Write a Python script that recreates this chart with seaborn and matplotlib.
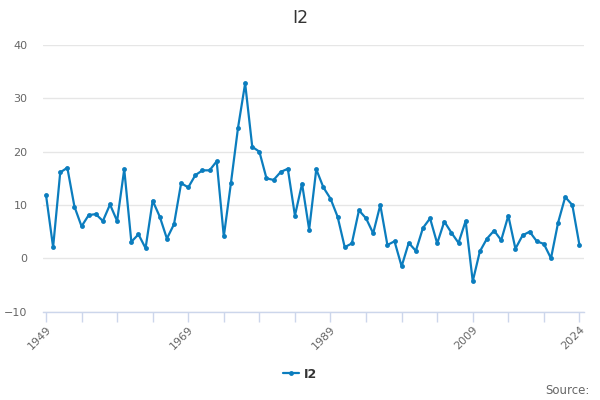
import numpy as np
import pandas as pd
import seaborn as sns
import matplotlib.pyplot as plt

# data
years = list(range(1949, 2025))
values = [
    11.9, 2.1, 16.1, 17.0, 9.7, 6.0, 8.1, 8.3, 7.0, 10.1,
    7.0, 16.7, 3.1, 4.5, 1.9, 10.8, 7.8, 3.7, 6.4, 14.1,
    13.3, 15.6, 16.5, 16.5, 18.2, 4.1, 14.1, 24.5, 32.8, 20.9,
    20.0, 15.0, 14.7, 16.2, 16.8, 8.0, 14.0, 5.4, 16.7, 13.3,
    11.2, 7.8, 2.1, 2.8, 9.0, 7.5, 4.7, 10.0, 2.5, 3.2,
    -1.5, 2.9, 1.4, 5.7, 7.5, 2.8, 6.9, 4.8, 2.9, 7.0,
    -4.3, 1.3, 3.7, 5.2, 3.4, 8.0, 1.8, 4.3, 5.0, 3.2,
    2.7, 0.0, 6.7, 11.5, 10.0, 2.5,
]
series_name = "I2"
label_years = [1949, 1969, 1989, 2009, 2024]

df = pd.DataFrame({"year": years, "value": values, "series": series_name})

sns.set_style("white")
plt.rcParams["font.family"] = ["DejaVu Sans"]

fig = plt.figure(figsize=(6, 4), dpi=100)
ax = fig.add_axes([0.0712, 0.2208, 0.902, 0.6667])

line_color = "#0b7dbe"
sns.lineplot(data=df, x="year", y="value", hue="series", palette=[line_color],
             marker="o", markersize=3.5, markeredgewidth=0, linewidth=1.6,
             ax=ax, legend=True)

ax.set_xlim(1948.54, 2024.63)
ax.set_ylim(-10, 40)

# horizontal grid
ax.set_yticks([-10, 0, 10, 20, 30, 40])
ax.yaxis.grid(True, color="#e6e6e6", linewidth=1)
ax.set_axisbelow(True)
ax.tick_params(axis="y", left=False, length=0, labelsize=8, labelcolor="#666666", pad=11)
for lbl in ax.get_yticklabels():
    lbl.set_horizontalalignment("right")

# x ticks every 5 years, labels at a few
xt = list(range(1949, 2025, 5))
ax.set_xticks(xt)
ax.set_xticklabels([str(y) if y in label_years else "" for y in xt],
                   rotation=45, ha="right", rotation_mode="anchor")
ax.tick_params(axis="x", bottom=True, direction="out", length=7, width=1,
               color="#ccd6eb", labelsize=8, labelcolor="#666666", pad=2)

for side in ["top", "right", "left"]:
    ax.spines[side].set_visible(False)
ax.spines["bottom"].set_color("#ccd6eb")
ax.spines["bottom"].set_linewidth(1)

ax.set_xlabel("")
ax.set_ylabel("")

fig.text(0.5, 0.955, "I2", ha="center", va="center", fontsize=12.5, color="#333333")

# legend at bottom
handles, labels = ax.get_legend_handles_labels()
ax.get_legend().remove()
leg = fig.legend(handles, labels, loc="center", bbox_to_anchor=(0.5, 0.065),
                 frameon=False, fontsize=9, handlelength=1.3, handletextpad=0.4)
for t in leg.get_texts():
    t.set_color("#333333")
    t.set_fontweight("bold")

fig.text(0.983, 0.025, "Source:", ha="right", va="center", fontsize=8.5, color="#666666")

fig.savefig("out.png", dpi=100)
